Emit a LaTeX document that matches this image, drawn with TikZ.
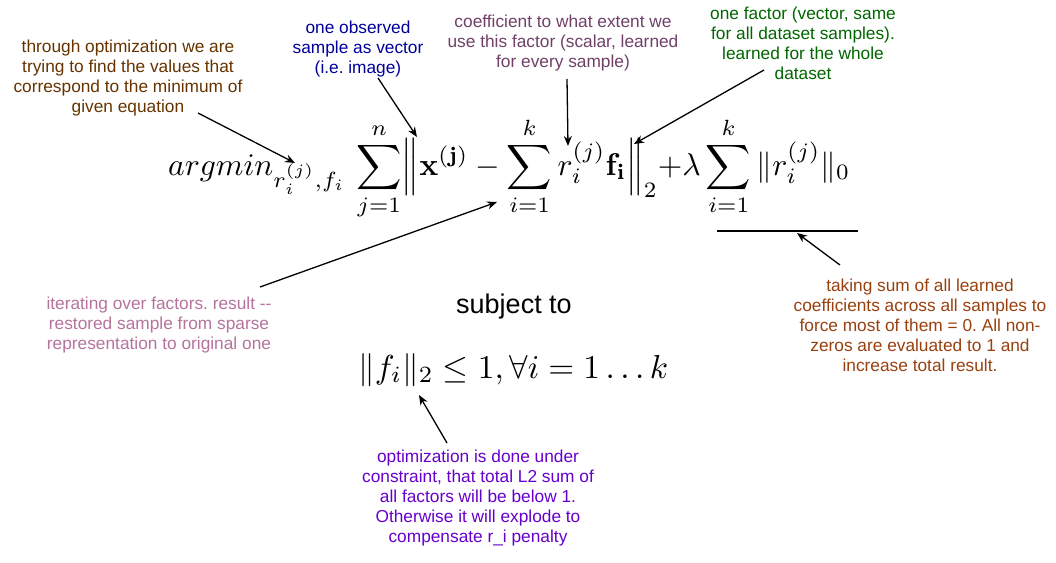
\documentclass[tikz,border=0pt]{standalone}
\usepackage[no-math]{fontspec}
\usepackage{amsmath,amssymb}
\usetikzlibrary{arrows.meta}
\newfontfamily\notefont{Liberation Sans}
\definecolor{optimbrown}{HTML}{663300}
\definecolor{sampleblue}{HTML}{000099}
\definecolor{coefplum}{HTML}{704068}
\definecolor{factorgreen}{HTML}{006600}
\definecolor{iterpink}{HTML}{B5739D}
\definecolor{sumrust}{HTML}{99400F}
\definecolor{constrviolet}{HTML}{6600CC}
\frenchspacing

\begin{document}
\begin{tikzpicture}[x=1pt,y=-1pt]
    % Node styles
    \tikzstyle{note} = [align=center, inner sep=0pt, font=\notefont\fontsize{17.3}{20}\selectfont]
    \tikzstyle{formula} = [inner sep=0pt, anchor=base west]
    \tikzstyle{arrow} = [-{Stealth[length=10pt,width=8pt]}, line width=1.3pt]

    \useasboundingbox (0,0) rectangle (1056,562);

    % Formulas
    \node (objective) at (168,175) [formula] {\resizebox{682pt}{!}{$\displaystyle argmin_{r_i^{(j)},f_i}\,\sum_{j=1}^{n}\!\Big\|\mathbf{x^{(j)}} - \sum_{i=1}^{k} r_i^{(j)}\mathbf{f_i}\Big\|_2 {+}\lambda \sum_{i=1}^{k} \| r_i^{(j)} \|_0$}};
    \node (subject) at (514,313) [anchor=base, font=\notefont\fontsize{27}{32}\selectfont] {subject to};
    \node (constraint) at (358,378) [formula] {\resizebox{310pt}{!}{$\|f_i\|_2 \leq 1, \forall i = 1 \ldots k$}};

    % Notes
    \node (optim_note) at (128,78) [note, text=optimbrown] {through optimization we are\\trying to find the values that\\correspond to the minimum of\\given equation};
    \node (sample_note) at (358,49) [note, text=sampleblue] {one observed\\sample as vector\\(i.e. image)};
    \node (coef_note) at (563,43) [note, text=coefplum] {coefficient to what extent we\\use this factor (scalar, learned\\for every sample)};
    \node (factor_note) at (803,43) [note, text=factorgreen] {one factor (vector, same\\for all dataset samples).\\learned for the whole\\dataset};
    \node (iter_note) at (159,325) [note, text=iterpink] {iterating over factors. result --\\restored sample from sparse\\representation to original one};
    \node (sum_note) at (920,325) [note, text=sumrust] {taking sum of all learned\\coefficients across all samples to\\force most of them = 0. All non-\\zeros are evaluated to 1 and\\increase total result.};
    \node (constr_note) at (478,498) [note, text=constrviolet] {optimization is done under\\constraint, that total L2 sum of\\all factors will be below 1.\\Otherwise it will explode to\\compensate r\_i penalty};

    % Points on the formulas
    \coordinate (optim_tail) at (198,113);
    \coordinate (argmin_sub) at (295,163);
    \coordinate (sample_tail) at (378,78);
    \coordinate (x_vec) at (417,137);
    \coordinate (coef_tail) at (567,79);
    \coordinate (r_coef) at (568,146);
    \coordinate (factor_tail) at (764,70);
    \coordinate (f_vec) at (634,144);
    \coordinate (iter_tail) at (260,287);
    \coordinate (inner_sum) at (497,202);
    \coordinate (reg_left) at (717,231);
    \coordinate (reg_right) at (858,231);
    \coordinate (sum_tail) at (840,265);
    \coordinate (reg_mid) at (797,233);
    \coordinate (constr_tail) at (447,443);
    \coordinate (norm_f) at (419,395);

    % Arrows
    \draw[arrow] (optim_tail) -- (argmin_sub);
    \draw[arrow] (sample_tail) -- (x_vec);
    \draw[arrow] (coef_tail) -- (r_coef);
    \draw[arrow] (factor_tail) -- (f_vec);
    \draw[arrow] (iter_tail) -- (inner_sum);
    \draw[line width=1.3pt] (reg_left) -- (reg_right);
    \draw[arrow] (sum_tail) -- (reg_mid);
    \draw[arrow] (constr_tail) -- (norm_f);

\end{tikzpicture}
\end{document}
